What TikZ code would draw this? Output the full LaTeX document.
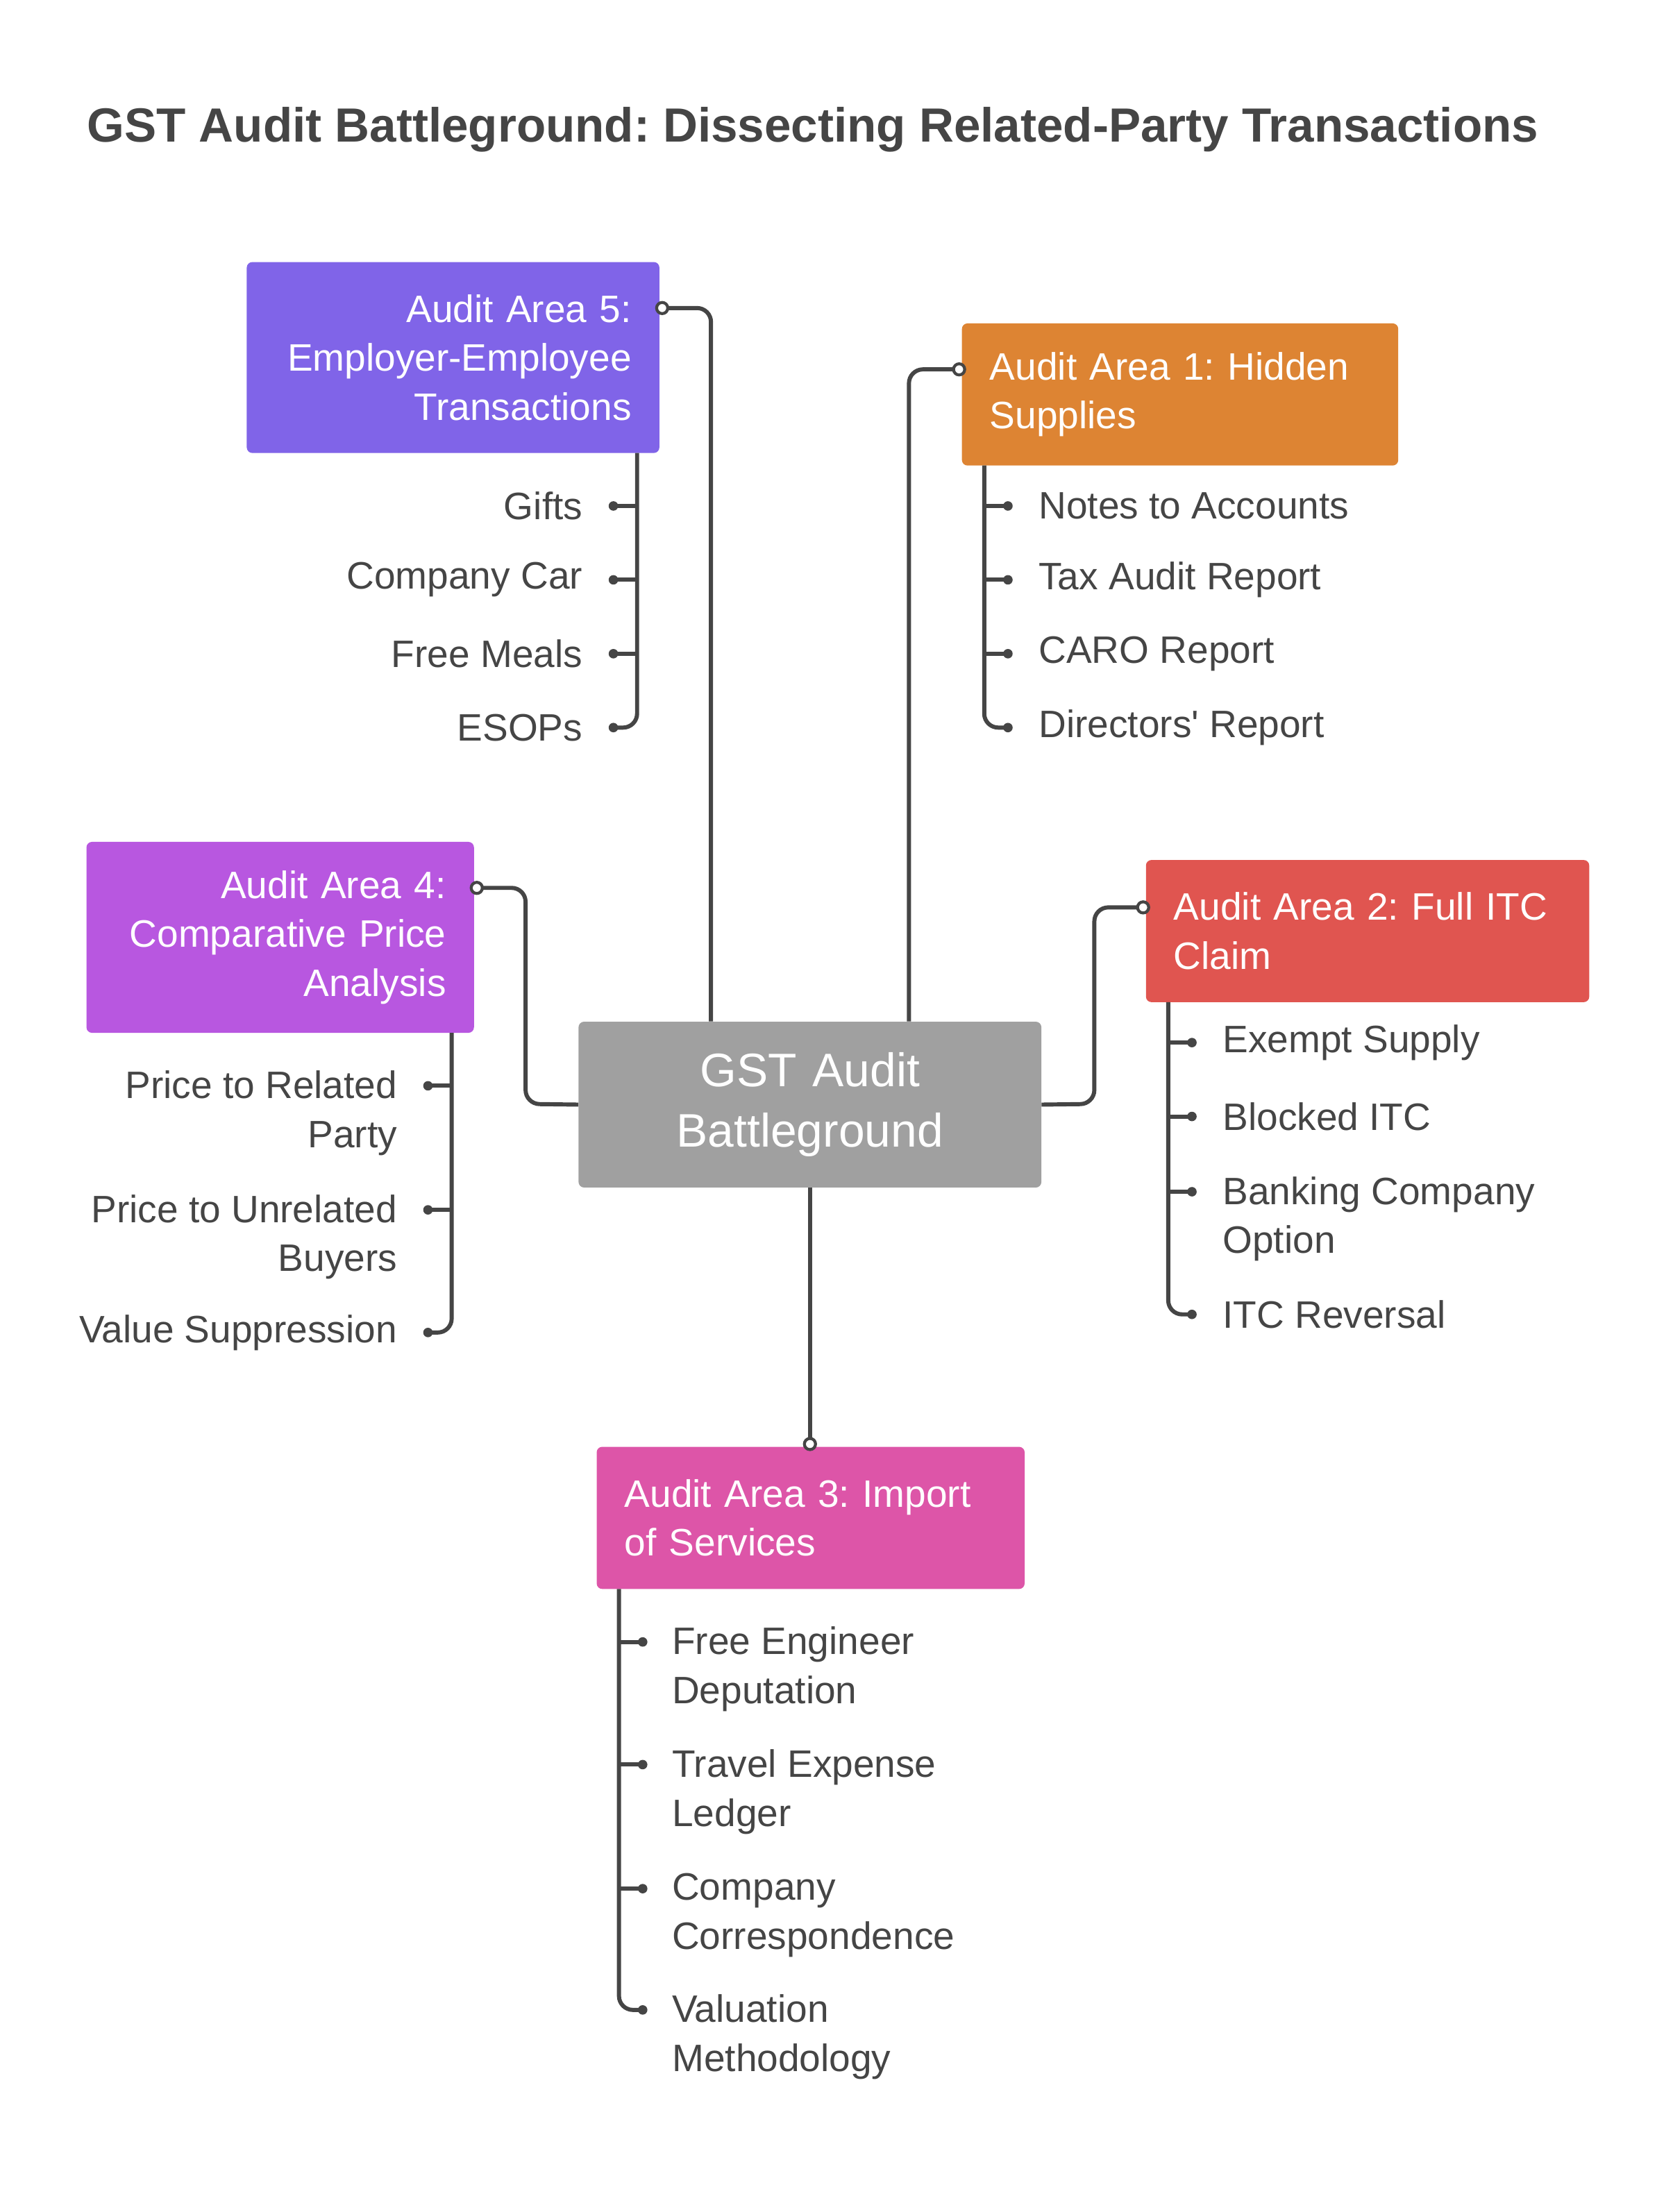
\documentclass[tikz,border=0pt]{standalone}
\usepackage{fontspec}
\setmainfont{Liberation Sans}
\begin{document}
\frenchspacing
\begin{tikzpicture}[x=0.05cm,y=-0.05cm]
\definecolor{ln}{HTML}{454545}
\definecolor{c5}{HTML}{8064E8}
\definecolor{c1}{HTML}{DD8433}
\definecolor{c4}{HTML}{B857E0}
\definecolor{c2}{HTML}{E05550}
\definecolor{cc}{HTML}{A0A0A0}
\definecolor{c3}{HTML}{DD55A8}
\tikzset{
 conn/.style={draw=ln,line width=4.2pt,rounded corners=0.5cm},
 box/.style={rounded corners=0.2cm,inner xsep=1cm,inner ysep=0pt,text=white,font=\fontsize{39}{50}\selectfont},
 itm/.style={text=ln,inner sep=0pt,font=\fontsize{39}{50}\selectfont},
 bul/.style={fill=ln,draw=none},
 hol/.style={fill=white,draw=ln,line width=3pt}
}
\useasboundingbox (0,0) rectangle (1200,1587);
\node[text=ln,font=\bfseries\fontsize{49}{60}\selectfont] (title) at (583,93) {GST Audit Battleground: Dissecting Related-Party Transactions};

\node[box,fill=c5,minimum width=14.8cm,minimum height=6.85cm,text width=12.8cm,align=right] (a5) at (325,256.5) {Audit Area 5:\\Employer-Employee\\Transactions};
\node[box,fill=c1,minimum width=15.65cm,minimum height=5.1cm,text width=13.65cm,align=left] (a1) at (846.5,283) {Audit Area 1: Hidden\\Supplies};
\node[box,fill=c4,minimum width=13.9cm,minimum height=6.85cm,text width=11.9cm,align=right] (a4) at (201,672.5) {Audit Area 4:\\Comparative Price\\Analysis};
\node[box,fill=c2,minimum width=15.9cm,minimum height=5.1cm,text width=13.9cm,align=left] (a2) at (981,668) {Audit Area 2: Full ITC\\Claim};
\node[box,fill=cc,minimum width=16.6cm,minimum height=5.95cm,text width=14.6cm,align=center,font=\fontsize{48}{62}\selectfont] (c) at (581,792.5) {GST Audit\\Battleground};
\node[box,fill=c3,minimum width=15.35cm,minimum height=5.1cm,text width=13.35cm,align=left] (a3) at (581.5,1089) {Audit Area 3: Import\\of Services};

\coordinate (p5) at (475,221); \coordinate (p1) at (688,265);
\coordinate (p4) at (342,637); \coordinate (p2) at (820,651);
\coordinate (p3) at (581,1036);
\draw[conn] (p5) -| (c.north -| 510,0);
\draw[conn] (p1) -| (c.north -| 652,0);
\draw[conn] (p4) -| (377,792) -- (c.west);
\draw[conn] (p2) -| (785,792) -- (c.east);
\draw[conn] (c.south) -- (p3);
\foreach \p in {p5,p1,p4,p2,p3} \filldraw[hol] (\p) circle (0.2cm);

\draw[conn] (457,325) |- (440,522);
\foreach \y in {363,416,469} \draw[conn] (457,\y) -- (440,\y);
\foreach \y in {363,416,469,522} \fill[bul] (440,\y) circle (0.17cm);
\node[itm,anchor=east] (i51) at (418,363) {Gifts};
\node[itm,anchor=east] (i52) at (418,416) {Company Car};
\node[itm,anchor=east] (i53) at (418,469) {Free Meals};
\node[itm,anchor=east] (i54) at (418,522) {ESOPs};

\draw[conn] (706,334) |- (723,522);
\foreach \y in {363,416,469} \draw[conn] (706,\y) -- (723,\y);
\foreach \y in {363,416,469,522} \fill[bul] (723,\y) circle (0.17cm);
\node[itm,anchor=west] (i11) at (745,363) {Notes to Accounts};
\node[itm,anchor=west] (i12) at (745,416) {Tax Audit Report};
\node[itm,anchor=west] (i13) at (745,469) {CARO Report};
\node[itm,anchor=west] (i14) at (745,522) {Directors\textquotesingle{} Report};

\draw[conn] (324,741) |- (307,956);
\foreach \y in {779,868} \draw[conn] (324,\y) -- (307,\y);
\foreach \y in {779,868,956} \fill[bul] (307,\y) circle (0.17cm);
\node[itm,anchor=north east,align=right] (i41) at (285,768) {Price to Related\\Party};
\node[itm,anchor=north east,align=right] (i42) at (285,857) {Price to Unrelated\\Buyers};
\node[itm,anchor=east] (i43) at (285,956) {Value Suppression};

\draw[conn] (838,719) |- (855,943);
\foreach \y in {748,801,855} \draw[conn] (838,\y) -- (855,\y);
\foreach \y in {748,801,855,943} \fill[bul] (855,\y) circle (0.17cm);
\node[itm,anchor=west] (i21) at (877,748) {Exempt Supply};
\node[itm,anchor=west] (i22) at (877,801) {Blocked ITC};
\node[itm,anchor=north west,align=left] (i23) at (877,844) {Banking Company\\Option};
\node[itm,anchor=west] (i24) at (877,943) {ITC Reversal};

\draw[conn] (444,1140) |- (461,1442);
\foreach \y in {1178,1266,1355} \draw[conn] (444,\y) -- (461,\y);
\foreach \y in {1178,1266,1355,1442} \fill[bul] (461,\y) circle (0.17cm);
\node[itm,anchor=north west,align=left] (i31) at (482,1167) {Free Engineer\\Deputation};
\node[itm,anchor=north west,align=left] (i32) at (482,1255) {Travel Expense\\Ledger};
\node[itm,anchor=north west,align=left] (i33) at (482,1344) {Company\\Correspondence};
\node[itm,anchor=north west,align=left] (i34) at (482,1431) {Valuation\\Methodology};
\end{tikzpicture}
\end{document}
